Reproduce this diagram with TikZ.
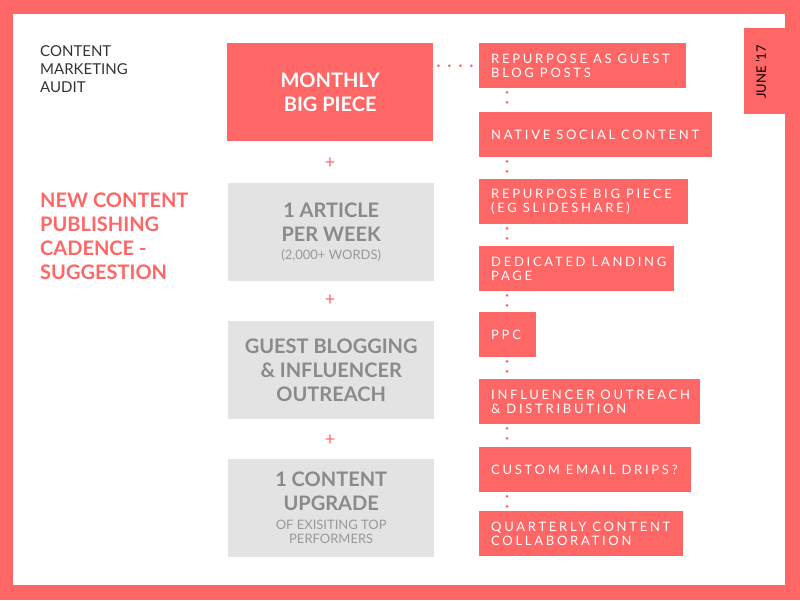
\documentclass[tikz,border=0pt]{standalone}
\usepackage{fontspec}
\setmainfont{Lato}
\newfontfamily\spacedfont[LetterSpace=21]{Lato}
\definecolor{coral}{HTML}{FF6666}
\definecolor{boxgrey}{HTML}{E3E3E3}
\definecolor{txtgrey}{HTML}{8A8A8A}
\definecolor{subgrey}{HTML}{999999}
\definecolor{darktxt}{HTML}{333333}
\newcommand{\rboxsetup}{\spaceskip=6pt\relax\hyphenpenalty=10000\relax}
\tikzset{
  bigbox/.style={fill=coral, text=white, font=\bfseries\fontsize{20}{24}\selectfont,
    minimum width=206pt, minimum height=98pt, anchor=north west, align=center, inner sep=0pt},
  greybox/.style={bigbox, fill=boxgrey, text=txtgrey},
  rbox/.style={fill=coral, text=white, font=\spacedfont\fontsize{13}{14}\selectfont,
    execute at begin node=\rboxsetup,
    minimum height=45pt, anchor=north west, align=left, inner xsep=12pt, inner ysep=0pt},
  plussign/.style={text=coral, font=\fontsize{18}{18}\selectfont, inner sep=0pt},
  vdots/.style={coral, line width=3pt, line cap=round, dash pattern=on 0pt off 10pt, dash phase=6pt},
  hdots/.style={coral, line width=3pt, line cap=round, dash pattern=on 0pt off 11pt, dash phase=6pt}
}
\newcommand{\subtxt}[1]{{\mdseries\fontsize{13}{14}\selectfont\color{subgrey}#1}}
\begin{document}
\begin{tikzpicture}[x=1pt,y=-1pt]
\useasboundingbox (0,0) rectangle (800,600);
\fill[coral] (0,0) rectangle (800,600);
\fill[white] (13,14) rectangle (785,585);
\fill[coral] (744,28) rectangle (785,114);
\node[rotate=90, text=black, font=\fontsize{13}{14}\selectfont, inner sep=0pt] (june) at (761,72) {JUNE '17};

% left titles
\node[anchor=north west, align=left, text=darktxt, font=\fontsize{15}{18}\selectfont, inner sep=0pt] (audit) at (40,45) {CONTENT\\MARKETING\\AUDIT};
\node[anchor=north west, align=left, text=coral, font=\bfseries\fontsize{20}{24}\selectfont, inner sep=0pt] (cadence) at (40,193) {NEW CONTENT\\PUBLISHING\\CADENCE -\\SUGGESTION};

% center column
\node[bigbox] (big) at (227,43) {MONTHLY\\BIG PIECE};
\node[plussign] (p1) at (330,163) {+};
\node[greybox] (g1) at (228,183) {1 ARTICLE\\PER WEEK\\[-6pt]\subtxt{(2,000+ WORDS)}};
\node[plussign] (p2) at (330,300) {+};
\node[greybox] (g2) at (228,321) {GUEST BLOGGING\\\& INFLUENCER\\OUTREACH};
\node[plussign] (p3) at (330,440) {+};
\node[greybox] (g3) at (228,459) {1 CONTENT\\UPGRADE\\[-5pt]\subtxt{OF EXISITING TOP}\\[-10pt]\subtxt{PERFORMERS}};

% right column
\node[rbox, text width=183pt] (b1) at (479,43) {REPURPOSE~AS~GUEST\\BLOG~POSTS};
\node[rbox, text width=209pt] (b2) at (479,112) {NATIVE~SOCIAL~CONTENT};
\node[rbox, text width=185pt] (b3) at (479,179) {REPURPOSE~BIG~PIECE\\(EG~SLIDESHARE)};
\node[rbox, text width=171pt] (b4) at (479,246) {DEDICATED~LANDING\\PAGE};
\node[rbox, text width=33pt] (b5) at (479,312) {PPC};
\node[rbox, text width=197pt] (b6) at (479,379) {INFLUENCER~OUTREACH\\\&~DISTRIBUTION};
\node[rbox, text width=188pt] (b7) at (479,447) {CUSTOM~EMAIL~DRIPS?};
\node[rbox, text width=180pt] (b8) at (479,511) {QUARTERLY~CONTENT\\COLLABORATION};

% connectors
\draw[hdots] (big.east |- b1.west) -- (b1.west);
\foreach \a/\b in {b1/b2,b2/b3,b3/b4,b4/b5,b5/b6,b6/b7,b7/b8}
  \draw[vdots] ([xshift=28pt]\a.south west) -- ([xshift=28pt]\b.north west);
\end{tikzpicture}
\end{document}
